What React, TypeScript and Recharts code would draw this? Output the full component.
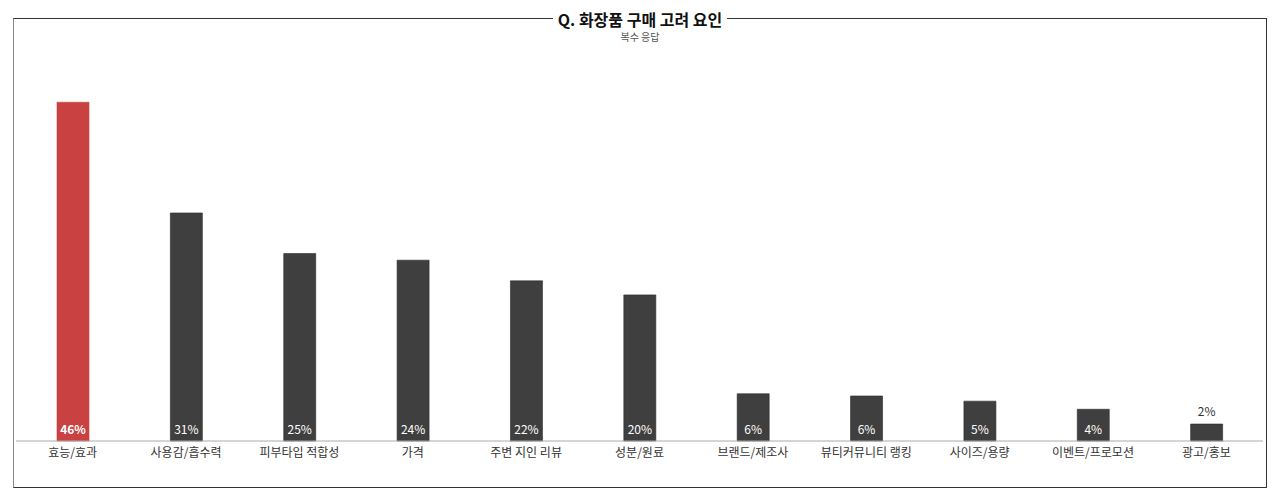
import React from 'react';
import { BarChart, Bar, XAxis, YAxis, Cell, LabelList } from 'recharts';

const categories = ['효능/효과', '사용감/흡수력', '피부타입 적합성', '가격', '주변 지인 리뷰', '성분/원료', '브랜드/제조사', '뷰티커뮤니티 랭킹', '사이즈/용량', '이벤트/프로모션', '광고/홍보'];
const values = [45.9, 30.9, 25.4, 24.5, 21.7, 19.8, 6.4, 6.1, 5.4, 4.3, 2.3];
const labels = ['46%', '31%', '25%', '24%', '22%', '20%', '6%', '6%', '5%', '4%', '2%'];
const highlight = [true, false, false, false, false, false, false, false, false, false, false];

const title = 'Q. 화장품 구매 고려 요인';
const subtitle = '복수 응답';

const data = categories.map((c, i) => ({ name: c, value: values[i], label: labels[i], hi: highlight[i] }));

const FONT = '"Noto Sans CJK KR", "Noto Sans", sans-serif';

const renderLabel = (props: any) => {
  const { x, y, width, height, index } = props;
  const d = data[index];
  const cx = x + width / 2;
  const inside = height > 20;
  const ty = inside ? y + height - 13 : y - 14;
  return (
    <text
      x={cx}
      y={ty}
      textAnchor="middle"
      dominantBaseline="central"
      fontFamily={FONT}
      fontSize={12}
      fontWeight={d.hi ? 700 : 400}
      fill={inside ? '#ffffff' : '#333333'}
    >
      {d.label}
    </text>
  );
};

export default function App() {
  return (
    <div style={{ position: 'absolute', left: 0, top: 0, width: 1280, height: 502, background: '#fff', fontFamily: FONT }}>
      <div
        style={{
          position: 'absolute',
          left: 13,
          top: 18,
          width: 1252,
          height: 468,
          borderTop: '1px solid #333',
          borderRight: '1px solid #333',
          borderBottom: '1px solid #333',
          borderLeft: '1px solid #888',
        }}
      />
      <div style={{ position: 'absolute', left: 0, top: 0, width: 1280, height: 502 }}>
        <BarChart
          width={1280}
          height={502}
          data={data}
          margin={{ top: 72, right: 17, left: 16, bottom: 31 }}
          barCategoryGap={0}
        >
          <YAxis hide domain={[0, 50]} />
          <XAxis
            dataKey="name"
            height={30}
            tickSize={0}
            tickMargin={7}
            axisLine={{ stroke: '#aaaaaa' }}
            tick={{ fontSize: 12, fill: '#333', fontFamily: FONT }}
            interval={0}
          />
          <Bar dataKey="value" barSize={32} isAnimationActive={false} stroke="#2a2a2a" strokeWidth={0.6}>
            {data.map((d, i) => (
              <Cell key={i} fill={d.hi ? '#c94141' : '#3f3f3f'} stroke={d.hi ? '#c94141' : '#2a2a2a'} />
            ))}
            <LabelList dataKey="label" content={renderLabel} />
          </Bar>
        </BarChart>
      </div>
      <div
        style={{
          position: 'absolute',
          left: 0,
          width: 1280,
          top: 7,
          textAlign: 'center',
        }}
      >
        <span
          style={{
            background: '#fff',
            padding: '0 5px',
            fontSize: 16,
            fontWeight: 700,
            color: '#111',
            lineHeight: '22px',
          }}
        >
          {title}
        </span>
      </div>
      <div
        style={{
          position: 'absolute',
          left: 0,
          width: 1280,
          top: 30,
          textAlign: 'center',
          fontSize: 10,
          color: '#555',
          lineHeight: '14px',
        }}
      >
        {subtitle}
      </div>
    </div>
  );
}
